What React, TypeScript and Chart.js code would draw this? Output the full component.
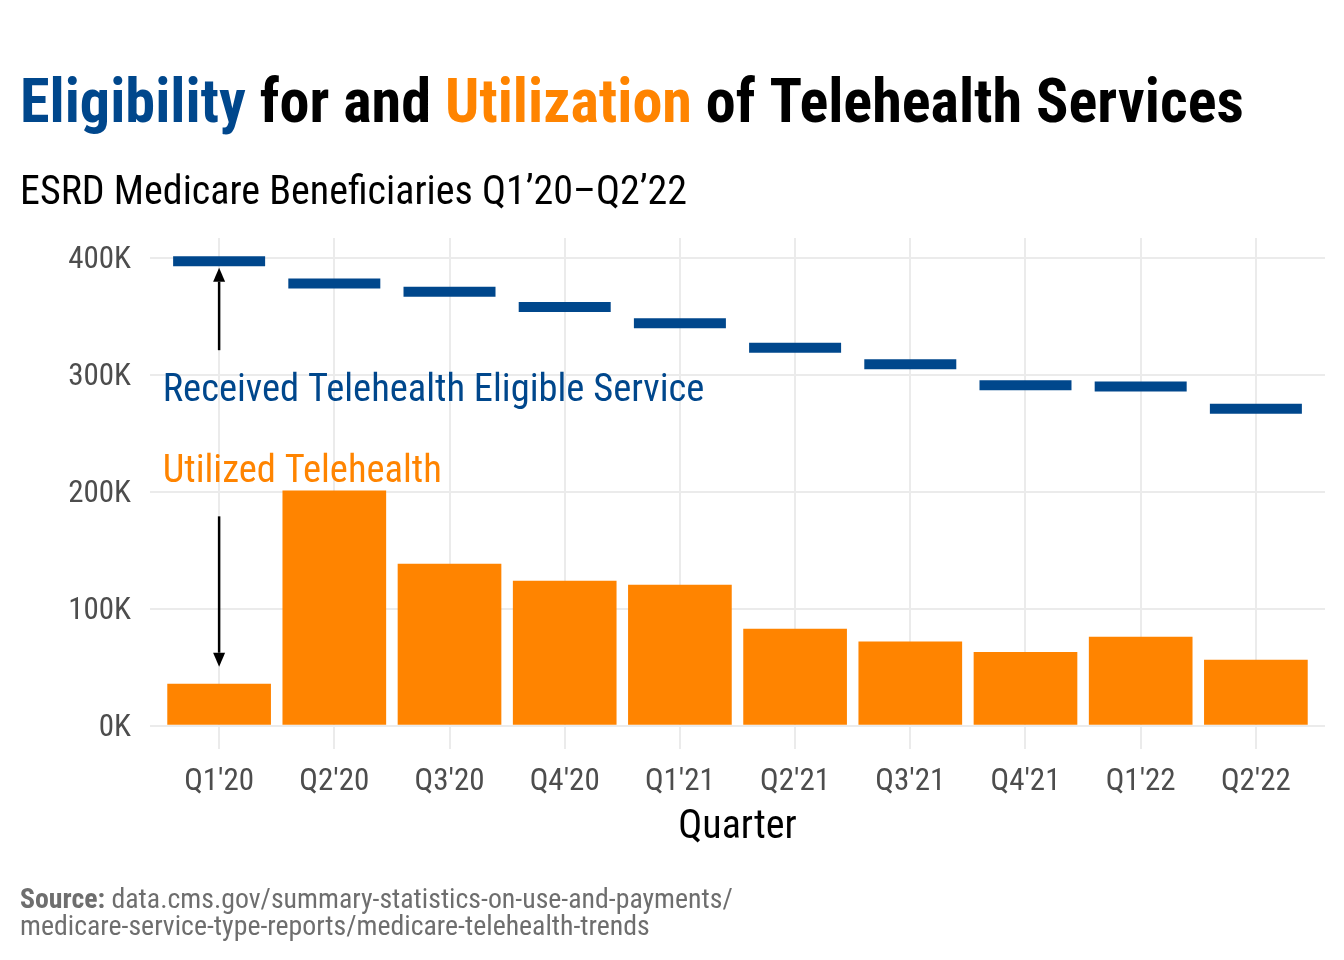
import React, { useEffect, useRef } from 'react';
import { Chart, registerables } from 'chart.js';

Chart.register(...registerables);

// ---- data ----
const quarters = ["Q1'20", "Q2'20", "Q3'20", "Q4'20", "Q1'21", "Q2'21", "Q3'21", "Q4'21", "Q1'22", "Q2'22"];
const utilizedTelehealth = [36000, 201000, 138500, 124000, 120500, 83000, 72000, 63000, 76000, 56500];
const eligibleService = [397000, 378000, 371000, 358000, 344000, 323000, 309000, 291000, 290000, 271000];
const yTickValues = [0, 100000, 200000, 300000, 400000];

const titleParts: [string, string][] = [
  ['Eligibility', '#00478C'],
  [' for and ', '#000000'],
  ['Utilization', '#FF8400'],
  [' of Telehealth Services', '#000000'],
];
const subtitleText = 'ESRD Medicare Beneficiaries Q1\u201920\u2013Q2\u201922';
const sourceLabel = 'Source:';
const sourceLine1 = ' data.cms.gov/summary-statistics-on-use-and-payments/';
const sourceLine2 = 'medicare-service-type-reports/medicare-telehealth-trends';
const xAxisTitle = 'Quarter';

// annotations in data units
const annotationLabels = [
  { text: 'Received Telehealth Eligible Service', x: -0.49, y: 278000, color: '#00478C' },
  { text: 'Utilized Telehealth', x: -0.49, y: 208500, color: '#FF8400' },
];
const annotationArrows = [
  { x: 0, from: 321000, to: 391500 },
  { x: 0, from: 179000, to: 50500 },
];

const BLUE = '#00478C';
const ORANGE = '#FF8400';
const GRID = '#EBEBEB';
const FAMILY = "'Roboto Condensed', Roboto, 'Noto Sans', sans-serif";
const STRETCH = 'condensed';

const cssFont = (weight: number, size: number) => `${STRETCH} ${weight} ${size}px ${FAMILY}`;

const textPlugin = {
  id: 'textPlugin',
  afterDatasetsDraw(chart: any) {
    const { ctx, scales } = chart;
    const xs = scales.x;
    const ys = scales.y;
    ctx.save();
    ctx.textAlign = 'left';
    ctx.textBaseline = 'alphabetic';
    ctx.font = cssFont(400, 38.5);
    for (const l of annotationLabels) {
      ctx.fillStyle = l.color;
      ctx.fillText(l.text, xs.getPixelForValue(l.x), ys.getPixelForValue(l.y));
    }
    ctx.strokeStyle = '#000';
    ctx.fillStyle = '#000';
    for (const a of annotationArrows) {
      const x = xs.getPixelForValue(a.x);
      const y1 = ys.getPixelForValue(a.from);
      const y2 = ys.getPixelForValue(a.to);
      const dir = Math.sign(y2 - y1);
      const headLen = 14;
      const headW = 6;
      ctx.lineWidth = 2.5;
      ctx.beginPath();
      ctx.moveTo(x, y1);
      ctx.lineTo(x, y2 - dir * headLen);
      ctx.stroke();
      ctx.beginPath();
      ctx.moveTo(x, y2);
      ctx.lineTo(x - headW, y2 - dir * headLen);
      ctx.lineTo(x + headW, y2 - dir * headLen);
      ctx.closePath();
      ctx.fill();
    }
    ctx.restore();
  },
  afterDraw(chart: any) {
    const { ctx } = chart;
    ctx.save();
    ctx.textAlign = 'left';
    ctx.textBaseline = 'alphabetic';
    ctx.font = cssFont(700, 60.2);
    let x = 20;
    for (const [t, c] of titleParts) {
      ctx.fillStyle = c;
      ctx.fillText(t, x, 122);
      x += ctx.measureText(t).width;
    }
    ctx.font = cssFont(400, 40);
    ctx.fillStyle = '#000';
    ctx.fillText(subtitleText, 20, 204);
    ctx.fillStyle = '#6E6E6E';
    ctx.font = cssFont(700, 27.8);
    ctx.fillText(sourceLabel, 20, 908);
    const w = ctx.measureText(sourceLabel).width;
    ctx.font = cssFont(400, 27.8);
    ctx.fillText(sourceLine1, 20 + w, 908);
    ctx.fillText(sourceLine2, 20, 935);
    ctx.restore();
  },
};

export default function App() {
  const ref = useRef<HTMLCanvasElement | null>(null);

  useEffect(() => {
    document.body.style.margin = '0';
    const canvas = ref.current;
    if (!canvas) return;
    const tickFont = { family: FAMILY, size: 31, style: STRETCH as any, weight: 400 as any };
    const chart = new Chart(canvas, {
      type: 'bar',
      data: {
        datasets: [
          {
            type: 'line',
            label: 'Received Telehealth Eligible Service',
            data: eligibleService.map((v, i) => ({ x: i, y: v })),
            showLine: false,
            pointStyle: 'line',
            pointRadius: 46,
            pointHoverRadius: 46,
            pointBorderWidth: 10,
            borderColor: BLUE,
            backgroundColor: BLUE,
            order: 0,
          } as any,
          {
            type: 'bar',
            label: 'Utilized Telehealth',
            data: utilizedTelehealth.map((v, i) => ({ x: i, y: v })),
            backgroundColor: ORANGE,
            borderWidth: 0,
            barPercentage: 0.9,
            categoryPercentage: 1,
            order: 1,
          } as any,
        ],
      },
      options: {
        animation: false,
        responsive: false,
        maintainAspectRatio: false,
        events: [],
        layout: { autoPadding: false, padding: { left: 0, right: 19, top: 238, bottom: 108 } },
        plugins: {
          legend: { display: false },
          tooltip: { enabled: false },
          title: { display: false },
        },
        scales: {
          x: {
            type: 'linear',
            offset: false,
            min: -0.6,
            max: 9.6,
            afterBuildTicks: (s: any) => {
              s.ticks = quarters.map((_, i) => ({ value: i }));
            },
            afterFit: (s: any) => {
              s.height = 103;
              s.paddingLeft = 0;
              s.paddingRight = 0;
            },
            grid: { color: GRID, lineWidth: 2, drawTicks: false, offset: false },
            border: { display: false },
            ticks: {
              callback: (v: any) => quarters[v as number],
              font: tickFont,
              color: '#4D4D4D',
              padding: 15,
              autoSkip: false,
              maxRotation: 0,
            },
            title: {
              display: true,
              text: xAxisTitle,
              color: '#000',
              font: { family: FAMILY, size: 40, style: STRETCH as any, weight: 400 as any, lineHeight: 1.2 },
              padding: 0,
            },
          },
          y: {
            type: 'linear',
            min: -19850,
            max: 416900,
            afterBuildTicks: (s: any) => {
              s.ticks = yTickValues.map((v) => ({ value: v }));
            },
            afterFit: (s: any) => {
              s.width = 150;
              s.paddingTop = 0;
              s.paddingBottom = 0;
            },
            grid: { color: GRID, lineWidth: 2, drawTicks: false },
            border: { display: false },
            ticks: {
              callback: (v: any) => `${Math.round((v as number) / 1000)}K`,
              font: tickFont,
              color: '#4D4D4D',
              padding: 19,
              labelOffset: 2,
            },
          },
        },
      },
      plugins: [textPlugin],
    });
    return () => chart.destroy();
  }, []);

  return (
    <div style={{ position: 'absolute', left: 0, top: 0, width: 1344, height: 960, background: '#fff' }}>
      <canvas ref={ref} width={1344} height={960} style={{ display: 'block', width: 1344, height: 960 }} />
    </div>
  );
}
